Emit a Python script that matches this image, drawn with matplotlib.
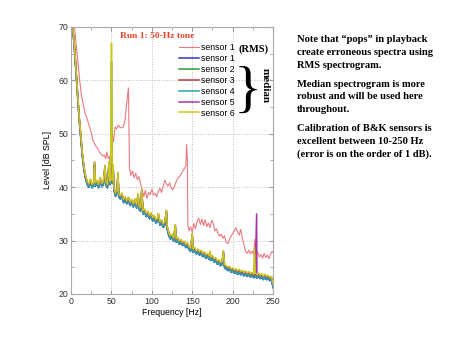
import matplotlib
matplotlib.use('Agg')
import matplotlib.pyplot as plt
from matplotlib.ticker import MultipleLocator

# RMS spectrum of sensor 1 (frequency in Hz, level in dB SPL)
rms_freq = [0, 3, 5, 7, 9, 11, 13, 15, 17, 19, 21, 23, 25, 27, 29, 31, 33, 35, 37, 39,
            41, 43, 44, 46, 48, 49, 50.3, 52.4, 54.5, 56.5, 58.5, 60.5, 62.7, 64.8, 66.8, 68.9, 71,
            72.3, 74, 76, 78, 80, 82, 84, 86, 88, 90, 92, 94, 96, 98, 100, 102, 104, 106, 108,
            110, 112, 114, 116, 118, 120, 122, 124, 126, 128, 130, 132, 134, 136, 138, 140, 142,
            143, 144, 144.5, 146, 148, 150, 152, 154, 156, 158, 160, 162, 164, 166, 168, 170,
            172, 174, 176, 178, 180, 182, 184, 186, 188, 190, 192, 194, 196, 198, 200, 202, 204,
            206, 208, 210, 212, 214, 216, 218, 220, 222, 224, 226, 227.5, 229, 231, 233, 235,
            237, 239, 241, 243, 245, 247, 249, 250]
rms_level = [76, 71, 68.8, 65.5, 62.5, 59.5, 57, 55.5, 54, 53.2, 52.2, 51.3, 50.2, 48.8, 48.2,
             47.6, 47.2, 46.6, 46.2, 45.8, 46.0, 45.3, 46.6, 45.4, 45.8, 44.8, 50.7, 48.5, 51.3,
             50.9, 51.6, 51.2, 51.1, 51.3, 52.6, 55.8, 58.6,
             43.5, 42.2, 43.0, 41.8, 42.6, 41.4, 42.0, 40.6, 39.6, 38.2, 39.4, 37.9, 39.0, 38.6,
             39.6, 38.5, 38.9, 38.2, 39.2, 39.8, 39.0, 40.2, 41.3, 40.6, 40.2, 40.8, 39.8, 39.5,
             40.2, 41.0, 41.7, 41.9, 42.4, 43.0, 43.4, 44.0, 48.0, 45.0, 33.0, 31.8, 32.6, 31.5,
             33.2, 32.2, 33.6, 34.2, 33.0, 34.0, 32.8, 33.9, 32.6, 33.3, 32.4, 33.8, 33.2, 31.8,
             32.2, 31.3, 30.8, 31.2, 30.4, 30.9, 29.7, 29.4, 30.2, 30.8, 31.3, 31.8, 32.4, 31.6,
             31.0, 32.1, 30.4, 29.2, 28.0, 27.6, 28.2, 27.5, 28.0, 27.4, 30.2, 27.3, 27.8, 26.9,
             27.4, 26.7, 27.6, 26.8, 27.3, 26.6, 27.5, 28.0, 27.8]

# median spectrum shared by the six sensors
med_freq = [0, 2, 4, 6, 8, 10, 12, 14, 16, 18, 20, 22, 24, 26, 28, 29, 30, 32, 34, 36, 38, 40,
            42, 43, 45, 47, 48, 49, 51, 52, 53, 55, 57, 58, 59, 61, 63, 65, 67, 69, 71, 73, 75,
            77, 79, 81, 83, 84, 86, 87.5, 89, 91, 93, 95, 97, 99, 101, 103, 105, 107, 108, 110,
            112, 114, 116, 118, 119, 121, 123, 125, 127, 129, 130, 132, 134, 136, 138, 140, 142,
            144, 146, 148, 150, 151, 153, 155, 157, 159, 161, 163, 165, 167, 169, 171, 172, 173,
            175, 177, 179, 181, 183, 185, 187, 188.5, 190, 192, 194, 196, 198, 200, 202, 204,
            206, 208, 210, 212, 214, 216, 218, 220, 222, 224, 226, 228, 230, 232, 234, 236, 238,
            240, 242, 244, 246, 248, 250]
med_level = [74, 70, 66.5, 62, 57.5, 53, 49.5, 46, 43.5, 41.8, 40.8, 40.3, 41.2, 40.2, 40.6,
             44.5, 40.5, 41.0, 40.2, 41.5, 40.4, 40.8, 43.8, 40.7, 40.2, 44.5, 40.8, 45.5, 41.0,
             44.0, 39.8, 38.6, 39.2, 42.5, 38.5, 38.1, 38.6, 37.4, 37.9, 37.2, 37.8, 36.9, 37.4,
             36.6, 37.5, 36.4, 38.5, 36.2, 35.8, 39.3, 35.3, 35.6, 34.8, 35.2, 34.4, 34.9, 34.0,
             34.4, 33.6, 33.9, 34.8, 33.2, 33.6, 32.8, 33.2, 35.4, 32.4, 31.2, 30.6, 30.9, 30.2,
             32.7, 30.0, 30.3, 29.6, 29.9, 29.4, 29.6, 29.0, 29.3, 28.6, 28.3, 31.0, 28.1, 28.4,
             27.8, 28.1, 27.6, 27.9, 27.3, 27.6, 27.0, 27.3, 26.8, 27.7, 26.6, 26.9, 26.3, 26.5,
             25.9, 26.1, 25.6, 25.8, 27.8, 25.2, 25.0, 24.7, 24.9, 24.4, 24.6, 24.2, 24.4, 24.0,
             24.3, 23.9, 24.1, 23.7, 24.0, 23.6, 23.9, 23.5, 23.7, 23.4, 23.6, 23.3, 23.6, 23.2,
             23.5, 23.0, 23.4, 23.0, 23.2, 22.8, 23.0, 21.5]

sensors = ['sensor 1', 'sensor 2', 'sensor 3', 'sensor 4', 'sensor 5', 'sensor 6']
sensor_colors = ['#3434c4', '#2e9a2e', '#b23a3a', '#2aa6a6', '#a634a6', '#c8c81e']
sensor_offset = [-0.35, -0.15, 0.1, -0.25, 0.2, 0.3]
# narrow tones seen only on some sensors: (frequency, level)
sensor_spikes = [[], [(50, 63.5)], [(188.6, 28.0)], [], [(229.7, 35.0)], [(50, 67.0), (227, 28.6)]]

notes = ['Note that \u201cpops\u201d in playback', 'create erroneous spectra using',
         'RMS spectrogram.', '', 'Median spectrogram is more', 'robust and will be used here',
         'throughout.', '', 'Calibration of B&K sensors is', 'excellent between 10-250 Hz',
         '(error is on the order of 1 dB).']

plt.rcParams['font.family'] = ['Liberation Sans', 'DejaVu Sans']
fig = plt.figure(figsize=(4.74, 3.55), dpi=100)
ax = fig.add_axes([0.150, 0.172, 0.426, 0.752])

ax.plot(rms_freq, rms_level, color='#ec7a80', lw=0.8, label='sensor 1')
for name, col, off, spikes in zip(sensors, sensor_colors, sensor_offset, sensor_spikes):
    pts = sorted(list(zip(med_freq, [v + off for v in med_level])) + spikes)
    ax.plot([p[0] for p in pts], [p[1] for p in pts], color=col, lw=1.1, label=name)

ax.set_xlim(0, 250)
ax.set_ylim(20, 70)
ax.xaxis.set_major_locator(MultipleLocator(50))
ax.xaxis.set_minor_locator(MultipleLocator(25))
ax.yaxis.set_major_locator(MultipleLocator(10))
ax.yaxis.set_minor_locator(MultipleLocator(5))
ax.tick_params(which='both', direction='in', top=True, right=True, color='#999999',
               labelsize=6.3, labelcolor='#333333', pad=2)
ax.tick_params(which='major', length=3)
ax.tick_params(which='minor', length=2)
for s in ax.spines.values():
    s.set_color('#aaaaaa')
    s.set_linewidth(0.8)
ax.grid(True, which='major', linestyle=':', color='#bbbbbb', lw=0.7)
ax.set_xlabel('Frequency [Hz]', fontsize=6.3, labelpad=2)
ax.set_ylabel('Level [dB SPL]', fontsize=6.3, labelpad=5)

leg = ax.legend(loc='upper left', bbox_to_anchor=(0.533, 0.94), frameon=False, fontsize=6.3,
                handlelength=2.3, handletextpad=0.3, labelspacing=0.22, borderaxespad=0,
                borderpad=0)
ax.text(0.828, 0.918, '(RMS)', transform=ax.transAxes, fontsize=7.5, fontweight='bold',
        family='Liberation Serif', va='center', ha='left')

ax.text(0.24, 0.965, 'Run 1: 50-Hz tone', transform=ax.transAxes, color='#e0482c',
        fontsize=6.8, fontweight='bold', family='Liberation Serif', va='center', ha='left')

fig.text(0.522, 0.738, '}', fontsize=42, family='Liberation Serif', va='center', ha='center')
fig.text(0.559, 0.759, 'median', fontsize=8, fontweight='bold', family='Liberation Serif',
         rotation=-90, va='center', ha='center')

y = 0.888
for line in notes:
    if line:
        fig.text(0.626, y, line, fontsize=7.6, fontweight='bold', family='Liberation Serif',
                 va='center', ha='left')
        y -= 0.036
    else:
        y -= 0.017

fig.savefig('out.png', dpi=100)
